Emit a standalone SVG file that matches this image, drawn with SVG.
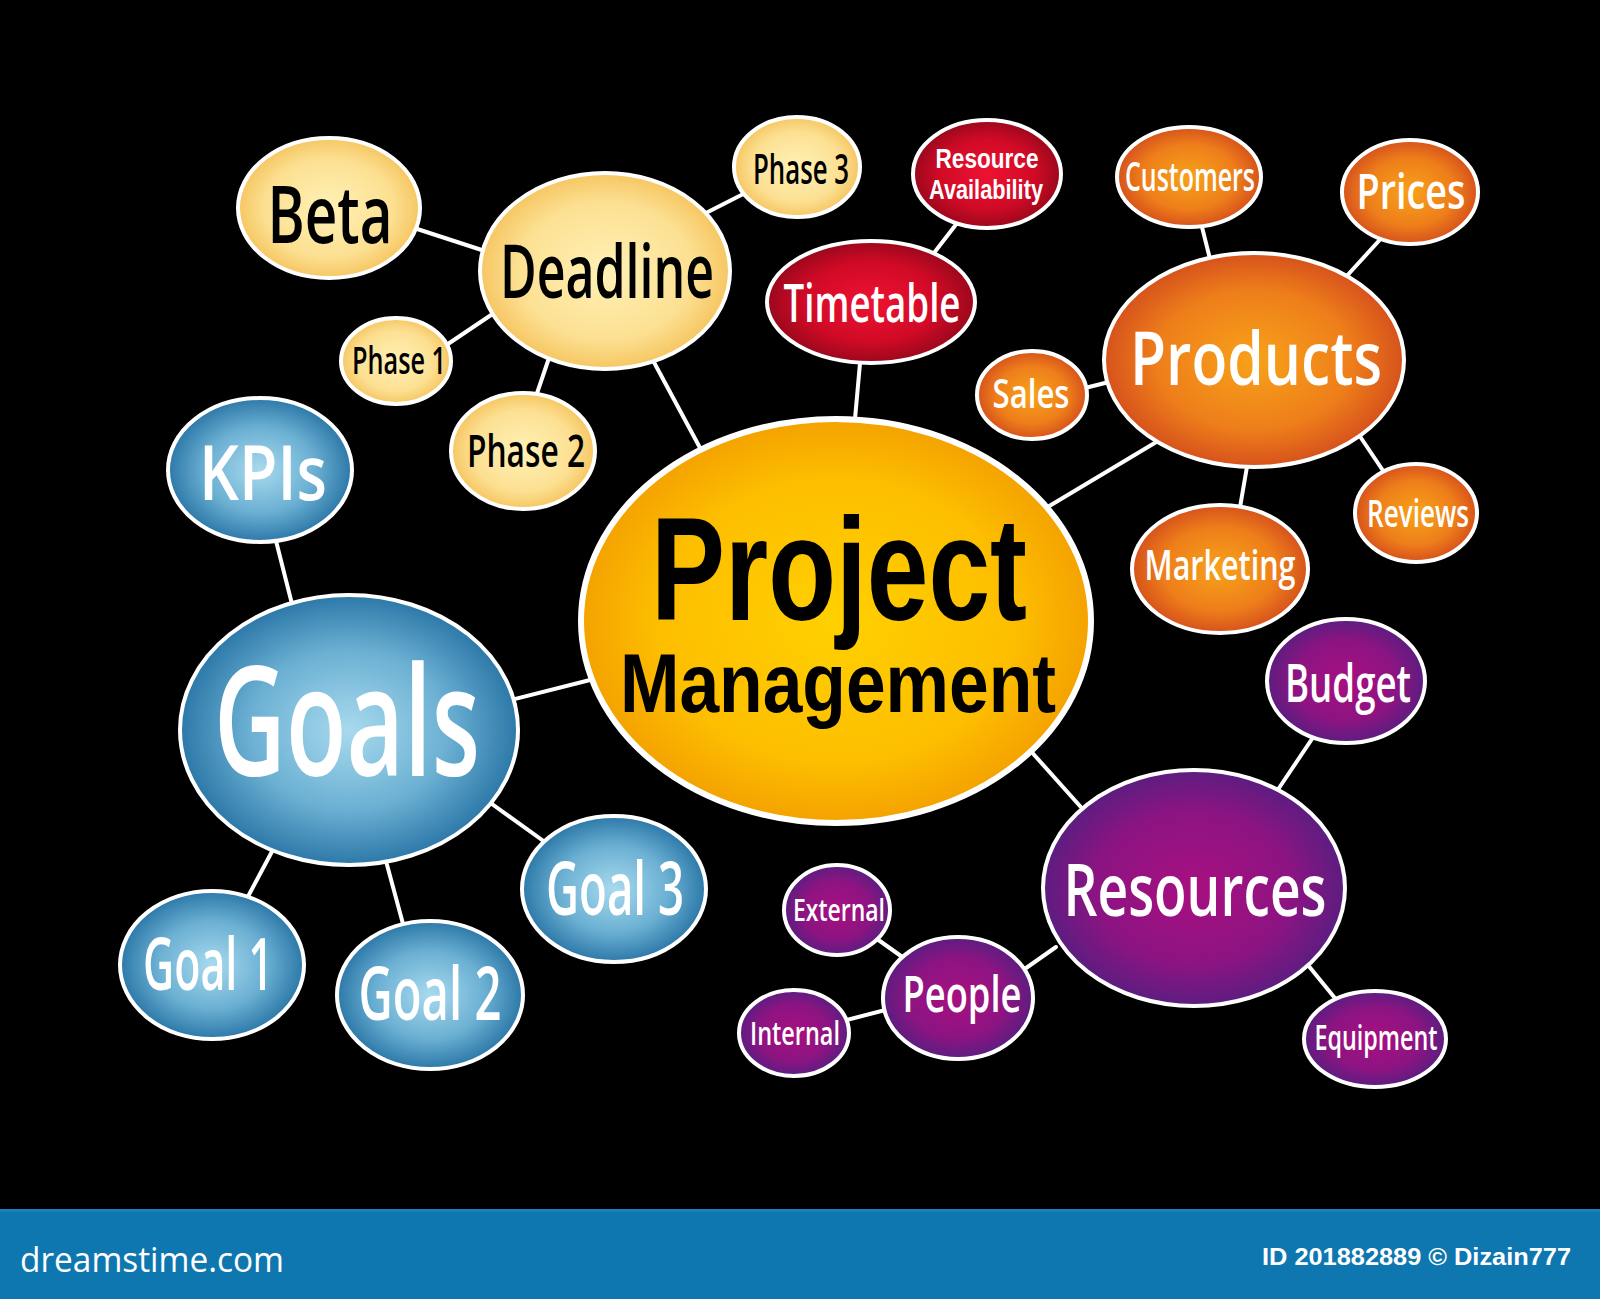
<svg xmlns="http://www.w3.org/2000/svg" width="1600" height="1299" viewBox="0 0 1600 1299">
<defs>
<radialGradient id="gPM" cx="50%" cy="50%" r="50%"><stop offset="0" stop-color="#FFD000"/><stop offset="0.7" stop-color="#FDBE00"/><stop offset="1" stop-color="#F4A200"/></radialGradient>
<radialGradient id="gY" cx="50%" cy="50%" r="50%"><stop offset="0" stop-color="#FFF1B6"/><stop offset="0.7" stop-color="#FCE092"/><stop offset="1" stop-color="#F6C662"/></radialGradient>
<radialGradient id="gB" cx="50%" cy="50%" r="50%"><stop offset="0" stop-color="#A8DAEE"/><stop offset="0.6" stop-color="#6AAFD2"/><stop offset="1" stop-color="#2C78A8"/></radialGradient>
<radialGradient id="gR" cx="50%" cy="50%" r="50%"><stop offset="0" stop-color="#EE1232"/><stop offset="0.65" stop-color="#D00A26"/><stop offset="1" stop-color="#9A081C"/></radialGradient>
<radialGradient id="gO" cx="50%" cy="50%" r="50%"><stop offset="0" stop-color="#F7A21A"/><stop offset="0.65" stop-color="#EE7E1A"/><stop offset="1" stop-color="#D6521C"/></radialGradient>
<radialGradient id="gP" cx="50%" cy="50%" r="50%"><stop offset="0" stop-color="#A80F80"/><stop offset="0.65" stop-color="#8C1482"/><stop offset="1" stop-color="#5C1D80"/></radialGradient>
</defs>
<style>
.n{stroke:#fff;stroke-width:4}
.pm{stroke:#fff;stroke-width:6}
.t{font-family:"Open Sans","Liberation Sans",sans-serif;font-weight:600;text-anchor:middle}
.tl{font-family:"Liberation Sans",Arial,sans-serif;font-weight:bold;text-anchor:middle}
.dk{fill:#000}
.wt{fill:#fff}
.c line{stroke:#fff;stroke-width:4;stroke-linecap:round}
</style>
<rect x="0" y="0" width="1600" height="1299" fill="#000"/>
<g id="connectors" class="c">
<line x1="408" y1="226" x2="494" y2="254"/>
<line x1="702" y1="215" x2="755" y2="188"/>
<line x1="439" y1="350" x2="500" y2="309"/>
<line x1="550" y1="355" x2="532" y2="408"/>
<line x1="649" y1="353" x2="706" y2="459"/>
<line x1="861" y1="352" x2="854" y2="430"/>
<line x1="927" y1="262" x2="961" y2="218"/>
<line x1="1212" y1="267" x2="1199" y2="215"/>
<line x1="1344" y1="279" x2="1386" y2="233"/>
<line x1="1117" y1="380" x2="1073" y2="391"/>
<line x1="1355" y1="429" x2="1392" y2="484"/>
<line x1="1249" y1="455" x2="1238" y2="519"/>
<line x1="1163" y1="438" x2="1046" y2="508"/>
<line x1="594" y1="679" x2="503" y2="702"/>
<line x1="1028" y1="748" x2="1088" y2="815"/>
<line x1="273" y1="529" x2="294" y2="612"/>
<line x1="276" y1="844" x2="244" y2="904"/>
<line x1="383" y1="850" x2="406" y2="935"/>
<line x1="485" y1="799" x2="556" y2="850"/>
<line x1="1277" y1="791" x2="1318" y2="730"/>
<line x1="1056" y1="947" x2="1019" y2="973"/>
<line x1="1303" y1="959" x2="1343" y2="1008"/>
<line x1="908" y1="961" x2="870" y2="934"/>
<line x1="897" y1="1007" x2="835" y2="1023"/>
</g>
<g id="project-management"><ellipse class="pm" cx="836" cy="621" rx="255" ry="202" fill="url(#gPM)"/>
<text class="tl dk" x="839" y="620" font-size="146" textLength="376" lengthAdjust="spacingAndGlyphs">Project</text>
<text class="tl dk" x="838" y="712" font-size="84" textLength="436" lengthAdjust="spacingAndGlyphs">Management</text></g>
<g id="deadline"><ellipse class="n" cx="605" cy="271" rx="125" ry="98" fill="url(#gY)"/><text class="t dk" x="607" y="298" font-size="75" textLength="214" lengthAdjust="spacingAndGlyphs">Deadline</text></g>
<g id="beta"><ellipse class="n" cx="329" cy="208" rx="91" ry="70" fill="url(#gY)"/><text class="t dk" x="330" y="243" font-size="80" textLength="125" lengthAdjust="spacingAndGlyphs">Beta</text></g>
<g id="phase1"><ellipse class="n" cx="396" cy="361" rx="55" ry="43" fill="url(#gY)"/><text class="t dk" x="399" y="374" font-size="37" textLength="94" lengthAdjust="spacingAndGlyphs">Phase 1</text></g>
<g id="phase2"><ellipse class="n" cx="523" cy="451" rx="72" ry="58" fill="url(#gY)"/><text class="t dk" x="526" y="467" font-size="45" textLength="118" lengthAdjust="spacingAndGlyphs">Phase 2</text></g>
<g id="phase3"><ellipse class="n" cx="797" cy="167" rx="63" ry="50" fill="url(#gY)"/><text class="t dk" x="801" y="184" font-size="42" textLength="96" lengthAdjust="spacingAndGlyphs">Phase 3</text></g>
<g id="timetable"><ellipse class="n" cx="871" cy="302" rx="104" ry="61" fill="url(#gR)"/><text class="t wt" x="872" y="322" font-size="52" textLength="177" lengthAdjust="spacingAndGlyphs">Timetable</text></g>
<g id="resource-availability"><ellipse class="n" cx="987" cy="174" rx="74" ry="54" fill="url(#gR)"/><text class="tl wt" x="987" y="168" font-size="28" textLength="103" lengthAdjust="spacingAndGlyphs">Resource</text><text class="tl wt" x="986" y="199" font-size="28" textLength="114" lengthAdjust="spacingAndGlyphs">Availability</text></g>
<g id="products"><ellipse class="n" cx="1254" cy="360" rx="150" ry="107" fill="url(#gO)"/><text class="t wt" x="1256" y="385" font-size="74" textLength="252" lengthAdjust="spacingAndGlyphs">Products</text></g>
<g id="customers"><ellipse class="n" cx="1189" cy="177" rx="72" ry="50" fill="url(#gO)"/><text class="t wt" x="1190" y="191" font-size="40" textLength="130" lengthAdjust="spacingAndGlyphs">Customers</text></g>
<g id="prices"><ellipse class="n" cx="1410" cy="192" rx="68" ry="52" fill="url(#gO)"/><text class="t wt" x="1411" y="209" font-size="48" textLength="109" lengthAdjust="spacingAndGlyphs">Prices</text></g>
<g id="sales"><ellipse class="n" cx="1032" cy="395" rx="55" ry="44" fill="url(#gO)"/><text class="t wt" x="1031" y="408" font-size="40" textLength="77" lengthAdjust="spacingAndGlyphs">Sales</text></g>
<g id="reviews"><ellipse class="n" cx="1416" cy="513" rx="61" ry="49" fill="url(#gO)"/><text class="t wt" x="1418" y="527" font-size="38" textLength="102" lengthAdjust="spacingAndGlyphs">Reviews</text></g>
<g id="marketing"><ellipse class="n" cx="1220" cy="569" rx="88" ry="64" fill="url(#gO)"/><text class="t wt" x="1220" y="580" font-size="42" textLength="151" lengthAdjust="spacingAndGlyphs">Marketing</text></g>
<g id="goals"><ellipse class="n" cx="349" cy="730" rx="169" ry="135" fill="url(#gB)"/><text class="t wt" x="347" y="776" font-size="152" textLength="266" lengthAdjust="spacingAndGlyphs">Goals</text></g>
<g id="kpis"><ellipse class="n" cx="260" cy="470" rx="92" ry="72" fill="url(#gB)"/><text class="t wt" x="263" y="500" font-size="76" textLength="128" lengthAdjust="spacingAndGlyphs">KPIs</text></g>
<g id="goal1"><ellipse class="n" cx="212" cy="965" rx="92" ry="74" fill="url(#gB)"/><text class="t wt" x="208" y="990" font-size="72" textLength="130" lengthAdjust="spacingAndGlyphs">Goal 1</text></g>
<g id="goal2"><ellipse class="n" cx="430" cy="995" rx="93" ry="74" fill="url(#gB)"/><text class="t wt" x="430" y="1020" font-size="75" textLength="143" lengthAdjust="spacingAndGlyphs">Goal 2</text></g>
<g id="goal3"><ellipse class="n" cx="614" cy="889" rx="92" ry="73" fill="url(#gB)"/><text class="t wt" x="615" y="915" font-size="74" textLength="138" lengthAdjust="spacingAndGlyphs">Goal 3</text></g>
<g id="resources"><ellipse class="n" cx="1194" cy="888" rx="151" ry="118" fill="url(#gP)"/><text class="t wt" x="1195" y="916" font-size="73" textLength="263" lengthAdjust="spacingAndGlyphs">Resources</text></g>
<g id="budget"><ellipse class="n" cx="1346" cy="681" rx="79" ry="62" fill="url(#gP)"/><text class="t wt" x="1348" y="702" font-size="52" textLength="126" lengthAdjust="spacingAndGlyphs">Budget</text></g>
<g id="equipment"><ellipse class="n" cx="1375" cy="1039" rx="71" ry="48" fill="url(#gP)"/><text class="t wt" x="1376" y="1050" font-size="35" textLength="123" lengthAdjust="spacingAndGlyphs">Equipment</text></g>
<g id="people"><ellipse class="n" cx="958" cy="998" rx="75" ry="61" fill="url(#gP)"/><text class="t wt" x="962" y="1012" font-size="50" textLength="119" lengthAdjust="spacingAndGlyphs">People</text></g>
<g id="external"><ellipse class="n" cx="837" cy="910" rx="53" ry="45" fill="url(#gP)"/><text class="t wt" x="839" y="921" font-size="31" textLength="92" lengthAdjust="spacingAndGlyphs">External</text></g>
<g id="internal"><ellipse class="n" cx="794" cy="1033" rx="55" ry="43" fill="url(#gP)"/><text class="t wt" x="795" y="1045" font-size="32" textLength="90" lengthAdjust="spacingAndGlyphs">Internal</text></g>
<g id="footer">
<rect x="0" y="1209" width="1600" height="90" fill="#0F77B0"/>
<rect x="0" y="1209" width="1600" height="3" fill="#1A82BA"/>
<text x="20" y="1272" font-family="'Open Sans','Liberation Sans',sans-serif" font-size="34" fill="#fff" textLength="264" lengthAdjust="spacingAndGlyphs">dreamstime.com</text>
<text x="1571" y="1265" font-family="'Liberation Sans',sans-serif" font-weight="bold" font-size="24" fill="#fff" text-anchor="end" textLength="309" lengthAdjust="spacingAndGlyphs">ID 201882889 © Dizain777</text>
</g>
</svg>
